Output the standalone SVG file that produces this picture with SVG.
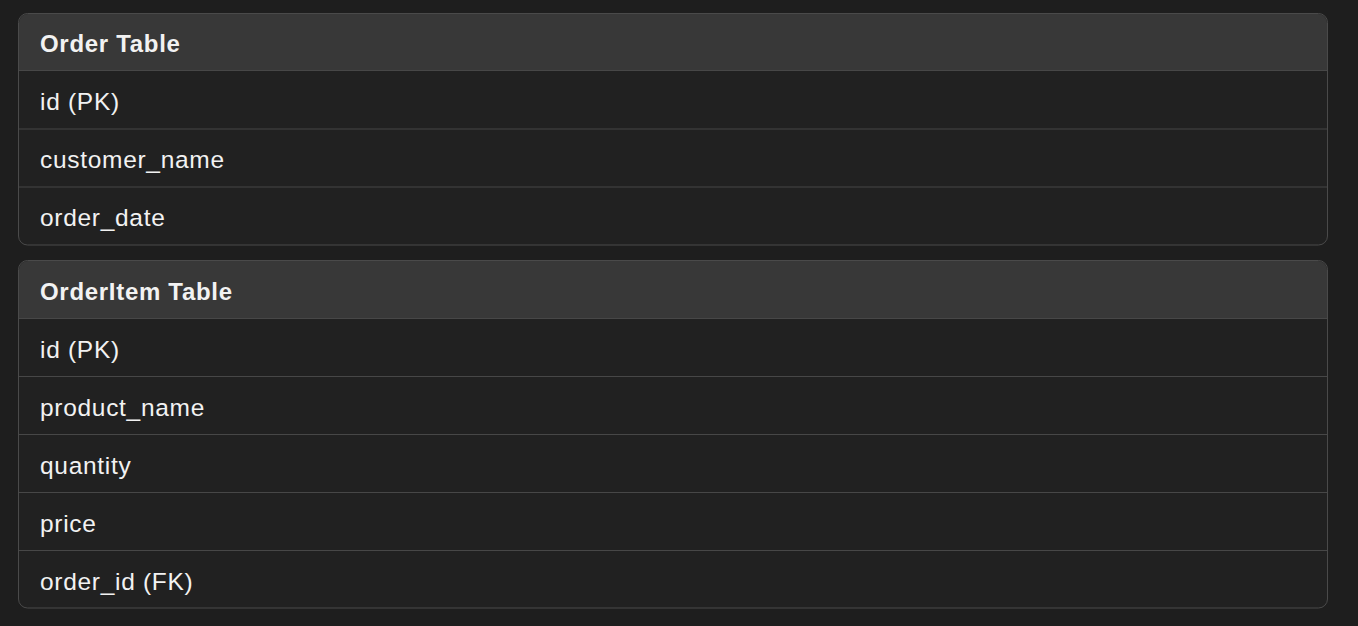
<svg xmlns="http://www.w3.org/2000/svg" width="1358" height="626" viewBox="0 0 1358 626">
<style>
.frame{fill:#212121;stroke:#4a4a4a;stroke-width:1}
.hdr{fill:#383838}
.sep{stroke:#474747;stroke-width:1.2}
.ht{font-family:"Liberation Sans",Arial,sans-serif;font-weight:bold;font-size:24px;letter-spacing:0.7px;fill:#f2f2f2}
.rt{font-family:"Liberation Sans",Arial,sans-serif;font-size:24.5px;letter-spacing:0.7px;fill:#f2f2f2}
</style>
<rect width="1358" height="626" fill="#1e1e1e"/>
<g id="order-table">
<rect class="frame" x="18.5" y="13.5" width="1309" height="231.5" rx="9"/>
<path class="hdr" d="M19 70.5 V22.5 A9 9 0 0 1 28 14 H1318 A9 9 0 0 1 1327 22.5 V70.5 Z"/>
<line class="sep" x1="19" y1="70.5" x2="1327" y2="70.5"/>
<line class="sep" x1="19" y1="129" x2="1327" y2="129"/>
<line class="sep" x1="19" y1="187" x2="1327" y2="187"/>
<text class="ht" x="40" y="51.5">Order Table</text>
<text class="rt" x="40" y="109.5">id (PK)</text>
<text class="rt" x="40" y="167.5">customer_name</text>
<text class="rt" x="40" y="225.5">order_date</text>
</g>
<g id="orderitem-table">
<rect class="frame" x="18.5" y="260.5" width="1309" height="347.5" rx="9"/>
<path class="hdr" d="M19 318.5 V269.5 A9 9 0 0 1 28 261 H1318 A9 9 0 0 1 1327 269.5 V318.5 Z"/>
<line class="sep" x1="19" y1="318.5" x2="1327" y2="318.5"/>
<line class="sep" x1="19" y1="376.5" x2="1327" y2="376.5"/>
<line class="sep" x1="19" y1="434.5" x2="1327" y2="434.5"/>
<line class="sep" x1="19" y1="492.5" x2="1327" y2="492.5"/>
<line class="sep" x1="19" y1="550.5" x2="1327" y2="550.5"/>
<text class="ht" x="40" y="299.5">OrderItem Table</text>
<text class="rt" x="40" y="357.5">id (PK)</text>
<text class="rt" x="40" y="415.5">product_name</text>
<text class="rt" x="40" y="473.5">quantity</text>
<text class="rt" x="40" y="531.5">price</text>
<text class="rt" x="40" y="589.5">order_id (FK)</text>
</g>
<g id="connectors"></g>
</svg>
